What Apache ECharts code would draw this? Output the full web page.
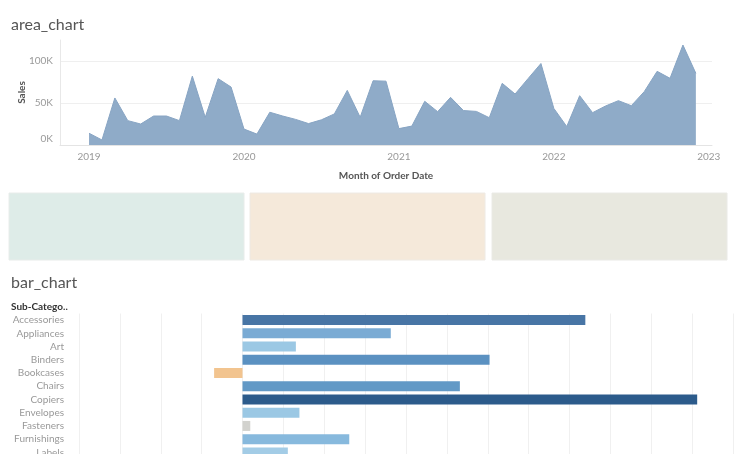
<!DOCTYPE html>
<html lang="en">
<head>
    <meta charset="UTF-8">
    <title>area_chart / bar_chart</title>
    <script src="https://cdn.jsdelivr.net/npm/echarts@6/dist/echarts.min.js"></script>
    <style>
        html, body {
            margin: 0;
            padding: 0;
            background: #fff;
            overflow: hidden;
        }

        /* taller than the window: the bar list runs past the bottom edge */
        #chart {
            width: 736px;
            height: 480px;
        }
    </style>
</head>
<body>
<div id="chart"></div>
<script>
    // monthly sales, Jan 2019 .. Dec 2022
    const yearLabels = ['2019', '2020', '2021', '2022', '2023'];
    const sales2019 = [14000, 6000, 56000, 29000, 25000, 34500, 34500, 29000, 82000, 33000, 79000, 69000];
    const sales2020 = [19000, 13000, 39000, 34500, 30500, 25500, 30000, 37000, 65000, 33000, 76500, 76000];
    const sales2021 = [19500, 22500, 52000, 39700, 56700, 41000, 40000, 32500, 73400, 60700, 79000, 97000];
    const sales2022 = [43600, 22000, 58700, 38500, 46400, 52800, 46800, 63500, 87700, 79400, 119000, 85300];

    const subCategories = ['Accessories', 'Appliances', 'Art', 'Binders', 'Bookcases', 'Chairs',
        'Copiers', 'Envelopes', 'Fasteners', 'Furnishings', 'Labels'];
    const profit = [41937, 18138, 6528, 30222, -3473, 26590, 55618, 6964, 950, 13059, 5546];
    const barColors = ['#4875a5', '#7aabd4', '#9bc8e4', '#5b91c1', '#f2c48f', '#6299c6',
        '#2c5b8b', '#9bc8e4', '#d2d2ce', '#87b9dd', '#a3cce6'];

    const font = 'Lato, "Open Sans", sans-serif';

    const salesAll = sales2019.concat(sales2020, sales2021, sales2022);
    const areaData = salesAll.map((v, i) => [i, v]);

    const chart = echarts.init(document.getElementById('chart'), null, {renderer: 'canvas'});
    chart.setOption({
        animation: false,
        textStyle: {fontFamily: font},
        title: [
            {text: 'area_chart', left: 11, top: 17, padding: 0, textStyle: {fontSize: 16, fontWeight: 'normal', color: '#555', fontFamily: font}},
            {text: 'bar_chart', left: 11, top: 275, padding: 0, textStyle: {fontSize: 16, fontWeight: 'normal', color: '#555', fontFamily: font}}
        ],
        graphic: [
            {type: 'rect', shape: {x: 9, y: 193, width: 235, height: 67}, style: {fill: '#deece8', stroke: '#e8ecea', lineWidth: 1}},
            {type: 'rect', shape: {x: 250, y: 193, width: 235, height: 67}, style: {fill: '#f5e9da', stroke: '#eeeae4', lineWidth: 1}},
            {type: 'rect', shape: {x: 492, y: 193, width: 235, height: 67}, style: {fill: '#e8e8df', stroke: '#eaeae6', lineWidth: 1}},
            {type: 'text', left: 11, top: 302, style: {text: 'Sub-Catego..', font: 'bold 10px ' + font, fill: '#333'}}
        ],
        grid: [
            {left: 60, right: 24, top: 40, height: 105},
            {left: 79, right: 3, top: 313.5, height: 145.5}
        ],
        xAxis: [
            {
                gridIndex: 0,
                type: 'value',
                min: -2.25,
                max: 48.25,
                name: 'Month of Order Date',
                nameLocation: 'middle',
                nameGap: 26,
                nameTextStyle: {color: '#555', fontSize: 10, fontWeight: 'bold'},
                axisLine: {show: true, onZero: false, lineStyle: {color: '#e4e4e4'}},
                axisTick: {show: false},
                splitLine: {show: false},
                axisLabel: {
                    customValues: [0, 12, 24, 36, 48],
                    formatter: v => yearLabels[Math.round(v / 12)],
                    color: '#999',
                    fontSize: 10,
                    margin: 7
                }
            },
            {
                gridIndex: 1,
                type: 'value',
                position: 'top',
                min: -20000,
                max: 60000,
                interval: 5000,
                axisLine: {show: false},
                axisTick: {show: false},
                axisLabel: {show: false},
                splitLine: {lineStyle: {color: '#f0f0f0'}}
            }
        ],
        yAxis: [
            {
                gridIndex: 0,
                type: 'value',
                min: 0,
                max: 125000,
                name: 'Sales',
                nameLocation: 'middle',
                nameRotate: 90,
                nameGap: 33,
                nameMoveOverlap: false,
                nameTextStyle: {color: '#555', fontSize: 10, fontWeight: 'bold'},
                axisLine: {show: true, onZero: false, lineStyle: {color: '#e8e8e8'}},
                axisTick: {show: false, customValues: [0, 50000, 100000]},
                splitLine: {lineStyle: {color: '#efefef'}},
                axisLabel: {
                    customValues: [0, 50000, 100000],
                    formatter: v => v === 0 ? '{b|0K}' : (v / 1000) + 'K',
                    rich: {b: {color: '#999', fontSize: 10, padding: [0, 0, 12, 0]}},
                    color: '#999',
                    fontSize: 10,
                    margin: 7
                }
            },
            {
                gridIndex: 1,
                type: 'category',
                inverse: true,
                data: subCategories,
                axisLine: {show: false},
                axisTick: {show: false},
                axisLabel: {color: '#999', fontSize: 10, margin: 15, interval: 0}
            }
        ],
        series: [
            {
                type: 'line',
                xAxisIndex: 0,
                yAxisIndex: 0,
                data: areaData,
                symbol: 'none',
                lineStyle: {color: '#87a4c3', width: 1},
                areaStyle: {color: '#8fabc8', opacity: 1}
            },
            {
                type: 'bar',
                xAxisIndex: 1,
                yAxisIndex: 1,
                barWidth: 10,
                data: profit.map((v, i) => ({value: v, itemStyle: {color: barColors[i]}}))
            }
        ]
    });
</script>
</body>
</html>
